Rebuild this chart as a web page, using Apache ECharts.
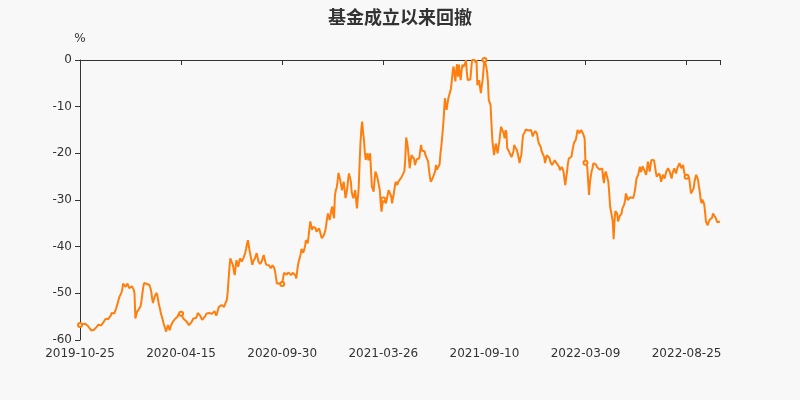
<!DOCTYPE html>
<html>
<head>
<meta charset="utf-8">
<script src="https://cdn.jsdelivr.net/npm/echarts@6/dist/echarts.min.js"></script>
<style>html,body{margin:0;padding:0;background:#f8f8f8;}#chart{width:800px;height:400px;}</style>
</head>
<body>
<div id="chart"></div>
<script>
// Title / labels
var titleText = '基金成立以来回撤';
var yUnit = '%';
var startDate = '2019-10-25';
// Exchange holidays (weekdays without trading) used to build the trading-day categories
var holidays = [
  '2020-01-01','2020-01-24','2020-01-27','2020-01-28','2020-01-29','2020-01-30','2020-01-31',
  '2020-04-06','2020-05-01','2020-05-04','2020-05-05','2020-06-25','2020-06-26',
  '2020-10-01','2020-10-02','2020-10-05','2020-10-06','2020-10-07','2020-10-08',
  '2021-01-01','2021-02-11','2021-02-12','2021-02-15','2021-02-16','2021-02-17',
  '2021-04-05','2021-05-03','2021-05-04','2021-05-05','2021-06-14','2021-09-20','2021-09-21',
  '2021-10-01','2021-10-04','2021-10-05','2021-10-06','2021-10-07',
  '2022-01-03','2022-01-31','2022-02-01','2022-02-02','2022-02-03','2022-02-04',
  '2022-04-04','2022-04-05','2022-05-02','2022-05-03','2022-05-04','2022-06-03','2022-09-12',
  '2022-10-03','2022-10-04','2022-10-05','2022-10-06','2022-10-07'
];
// Drawdown (%) per trading day
var drawdown = [
-56.8,-57.1,-56.9,-56.6,-56.7,-56.4,-56.5,-56.8,-56.6,-57.0,
-57.3,-57.5,-57.9,-58.0,-58.2,-58.1,-57.8,-57.9,-57.5,-57.2,
-57.0,-56.7,-56.4,-56.6,-56.9,-56.8,-56.6,-56.1,-55.8,-55.5,
-55.3,-55.6,-55.5,-55.4,-55.2,-54.8,-54.2,-53.9,-54.1,-54.3,
-53.8,-53.3,-52.9,-52.0,-51.3,-50.7,-50.3,-49.9,-49.3,-47.9,
-47.5,-48.0,-48.6,-48.3,-47.9,-48.2,-48.9,-48.7,-48.8,-48.5,
-48.6,-49.2,-50.0,-55.4,-54.6,-53.9,-53.6,-53.4,-53.2,-52.7,
-51.5,-50.0,-48.6,-47.8,-47.6,-48.2,-48.0,-47.8,-47.7,-48.2,
-48.8,-49.6,-51.0,-52.1,-51.3,-50.7,-50.3,-49.9,-50.5,-51.6,
-52.6,-53.3,-54.3,-54.9,-55.6,-56.4,-57.0,-57.6,-58.2,-57.5,
-56.8,-57.3,-57.9,-57.2,-56.7,-56.4,-56.0,-55.6,-55.5,-55.8,
-55.2,-55.0,-54.5,-54.3,-54.6,-54.4,-54.9,-55.3,-55.5,-55.6,
-55.8,-56.0,-56.1,-56.4,-56.8,-57.1,-56.6,-56.1,-55.7,-55.4,
-55.5,-55.7,-55.3,-54.8,-54.2,-54.1,-54.5,-54.9,-55.2,-55.7,
-56.1,-55.6,-55.0,-54.6,-54.3,-54.4,-54.0,-54.2,-54.1,-54.3,
-54.4,-54.5,-54.0,-53.8,-54.1,-54.8,-54.2,-53.5,-52.9,-53.0,
-52.7,-52.5,-52.6,-52.8,-52.9,-52.3,-51.9,-51.4,-49.8,-47.0,
-44.5,-42.5,-42.1,-42.8,-44.0,-45.2,-46.1,-44.4,-42.9,-43.6,
-44.3,-43.4,-42.5,-42.9,-43.2,-42.8,-42.4,-42.1,-41.3,-40.4,
-39.4,-38.6,-39.8,-41.0,-41.9,-42.9,-43.9,-43.2,-42.8,-42.5,
-41.9,-41.4,-42.3,-43.2,-43.5,-43.7,-43.9,-43.0,-42.3,-41.8,
-42.6,-43.4,-43.9,-44.1,-44.3,-44.0,-44.4,-44.6,-44.3,-44.0,
-43.9,-44.6,-45.4,-46.7,-47.9,-47.7,-47.6,-47.9,-47.6,-47.8,
-48.0,-46.8,-45.6,-45.5,-45.8,-46.0,-45.7,-45.5,-45.4,-45.8,
-46.1,-45.9,-45.6,-45.5,-45.4,-46.1,-46.8,-45.3,-43.9,-43.0,
-42.4,-41.6,-40.5,-40.4,-41.3,-41.5,-39.9,-38.6,-38.9,-39.3,
-37.8,-36.0,-34.6,-35.5,-36.4,-35.8,-35.6,-35.4,-36.0,-36.8,
-37.1,-36.6,-36.1,-36.8,-37.5,-38.2,-38.0,-37.7,-37.9,-36.6,
-35.4,-34.0,-32.9,-33.6,-34.3,-33.2,-32.0,-31.4,-33.0,-33.9,
-29.0,-27.9,-27.4,-26.0,-24.2,-24.6,-25.7,-26.8,-27.9,-27.0,
-26.1,-27.8,-29.6,-28.7,-27.5,-25.6,-24.3,-24.7,-25.9,-28.2,
-29.1,-29.6,-28.9,-27.9,-29.8,-31.8,-29.7,-27.5,-22.4,-17.9,
-14.8,-13.2,-15.5,-17.1,-19.8,-21.4,-20.5,-20.0,-21.5,-21.6,
-20.0,-23.5,-27.1,-27.6,-28.2,-25.9,-23.9,-24.4,-25.0,-25.1,
-25.3,-27.8,-30.6,-32.5,-31.0,-29.9,-29.5,-29.6,-30.7,-29.8,
-28.9,-27.9,-27.7,-27.5,-29.2,-30.7,-29.6,-28.6,-27.3,-26.1,
-26.5,-26.8,-26.1,-25.7,-25.6,-25.4,-25.0,-25.2,-24.9,-23.8,
-21.2,-16.6,-17.5,-18.9,-21.0,-23.2,-21.8,-20.4,-20.6,-20.0,
-21.2,-22.5,-21.9,-21.3,-21.1,-21.3,-21.0,-19.4,-18.2,-19.4,
-19.6,-19.3,-19.6,-20.4,-20.2,-20.4,-21.8,-23.6,-25.0,-26.1,
-25.7,-25.4,-25.6,-25.4,-23.8,-22.5,-23.5,-23.9,-23.6,-22.4,
-20.1,-18.5,-16.4,-14.3,-11.6,-8.2,-9.5,-10.7,-9.4,-8.2,
-8.4,-8.2,-6.1,-4.3,-2.3,-1.4,-3.2,-4.6,-2.2,-0.9,
-3.6,-1.0,-2.7,-4.3,-2.4,-1.0,-1.5,-1.8,-0.8,0,
-2.5,-4.3,-4.1,-4.0,-4.2,-2.0,0,0,0,0,
-0.6,0,-5.4,-4.9,-4.3,-5.8,-7.1,-5.5,-4.3,-2.0,
0,-0.6,-1.3,-2.5,-4.5,-8.6,-9.0,-9.6,-13.5,-17.1,
-18.8,-20.4,-19.1,-17.9,-19.0,-20.0,-18.6,-17.5,-15.7,-14.3,
-14.1,-13.9,-15.8,-16.8,-15.0,-15.5,-18.9,-19.1,-19.6,-20.1,
-20.5,-20.8,-21.1,-19.6,-18.2,-18.7,-19.0,-19.3,-19.1,-21.0,
-22.1,-21.0,-20.4,-18.0,-16.1,-15.7,-15.4,-14.9,-14.6,-14.9,
-15.1,-15.4,-15.2,-15.0,-15.6,-16.4,-15.8,-15.4,-15.2,-15.1,
-15.9,-17.2,-17.9,-18.1,-18.6,-19.5,-19.6,-19.6,-20.8,-22.1,
-21.2,-20.4,-20.2,-20.0,-21.0,-21.8,-22.2,-22.5,-22.7,-22.4,
-21.5,-21.1,-22.1,-22.5,-22.1,-22.9,-23.6,-23.2,-22.9,-23.4,
-23.9,-25.4,-26.8,-25.3,-23.9,-22.2,-21.1,-21.0,-20.8,-20.7,
-19.6,-18.6,-17.7,-17.4,-17.1,-16.1,-15.0,-15.4,-15.7,-15.3,
-15.0,-15.4,-15.7,-16.2,-16.8,-22.0,-22.4,-22.9,-25.8,-28.9,
-26.4,-25.0,-23.8,-23.2,-22.1,-22.0,-21.8,-22.4,-22.9,-23.1,
-23.3,-23.5,-23.6,-23.4,-23.2,-25.2,-26.4,-24.5,-23.9,-24.6,
-25.0,-26.1,-28.5,-31.4,-31.6,-31.8,-34.5,-38.4,-34.5,-32.4,
-32.1,-32.9,-34.6,-34.0,-33.4,-33.1,-32.9,-31.8,-31.4,-31.0,
-30.1,-28.6,-29.2,-30.0,-29.8,-29.6,-29.4,-29.3,-29.5,-29.6,
-29.1,-28.2,-26.9,-25.4,-25.0,-24.6,-23.6,-22.9,-24.0,-23.6,
-22.8,-22.5,-23.7,-24.1,-24.6,-23.3,-21.8,-22.7,-23.9,-22.6,
-21.4,-21.2,-21.1,-21.5,-21.9,-24.0,-25.0,-25.4,-24.8,-24.3,
-25.0,-26.1,-25.4,-24.6,-25.0,-25.4,-24.6,-23.9,-23.5,-23.2,
-23.6,-24.0,-24.8,-25.4,-24.3,-23.9,-23.2,-23.6,-24.3,-23.5,
-22.9,-22.5,-22.1,-22.7,-23.2,-22.8,-22.5,-23.8,-24.6,-24.8,
-25.0,-24.7,-24.8,-25.4,-27.0,-28.6,-28.8,-29.0,-27.5,-26.1,
-25.2,-24.6,-25.1,-25.7,-27.1,-28.2,-29.9,-30.7,-29.9,-29.8,
-30.9,-32.5,-34.6,-35.0,-35.4,-34.8,-34.3,-34.5,-34.6,-33.8,
-32.9,-33.0,-33.2,-33.8,-34.3,-34.8,-35.0,-34.7,-34.6
];
var yMin = -60, yMax = 0, yStep = 10;
var labelEvery = 115; // trading days between shown dates

// Build trading-day categories (weekdays minus holidays), one per value
function pad(n){return n<10?'0'+n:''+n;}
var holidaySet = {};
holidays.forEach(function(h){holidaySet[h]=true;});
var dates = [];
var d = new Date(startDate + 'T00:00:00Z');
while (dates.length < drawdown.length) {
  var wd = d.getUTCDay();
  var s = d.getUTCFullYear() + '-' + pad(d.getUTCMonth()+1) + '-' + pad(d.getUTCDate());
  if (wd !== 0 && wd !== 6 && !holidaySet[s]) dates.push(s);
  d = new Date(d.getTime() + 86400000);
}
var lastIdx = dates.length - 1;
var labelFont = 'DejaVu Sans';

var chart = echarts.init(document.getElementById('chart'));
chart.setOption({
  animation: false,
  backgroundColor: '#f8f8f8',
  textStyle: {fontFamily: labelFont},
  title: {
    text: titleText, left: 'center', top: 3,
    textStyle: {fontSize: 18, fontWeight: 'bold', color: '#333', fontFamily: 'Noto Sans CJK SC'}
  },
  grid: {left: 80, right: 80, top: 60, bottom: 60},
  xAxis: [{
    type: 'category', data: dates, boundaryGap: false, position: 'bottom',
    axisLine: {show: false, onZero: false}, axisTick: {show: false},
    axisLabel: {interval: labelEvery - 1, color: '#333', fontSize: 12, margin: 8, fontFamily: labelFont}
  }, {
    type: 'category', data: dates, boundaryGap: false, position: 'top',
    axisLine: {show: true, onZero: false, lineStyle: {color: '#333'}},
    axisTick: {show: true, inside: true, length: 5, lineStyle: {color: '#333'},
      interval: function(i){ return i % labelEvery === 0 || i === lastIdx; }},
    axisLabel: {show: false}
  }],
  yAxis: {
    type: 'value', min: yMin, max: yMax, interval: yStep,
    name: yUnit, nameTextStyle: {color: '#333', fontSize: 12, fontFamily: labelFont},
    axisLine: {show: true, lineStyle: {color: '#333'}},
    axisTick: {show: true, lineStyle: {color: '#333'}},
    axisLabel: {color: '#333', fontSize: 12, fontFamily: labelFont},
    splitLine: {show: false}
  },
  series: [{
    type: 'line', xAxisIndex: 0, data: drawdown,
    symbol: 'emptyCircle', symbolSize: 4,
    lineStyle: {color: '#ff7f0e', width: 2},
    itemStyle: {color: '#ff7f0e'}
  }]
});
</script>
</body>
</html>
